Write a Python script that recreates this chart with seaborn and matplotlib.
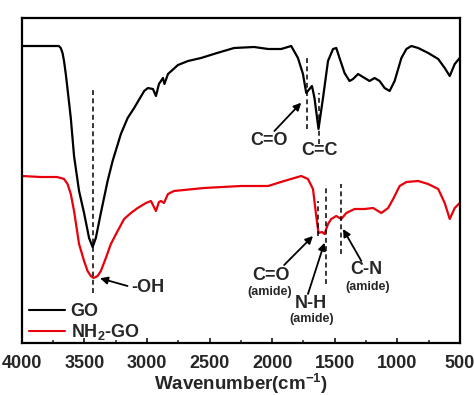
import matplotlib
matplotlib.use("Agg")
import matplotlib.pyplot as plt
import seaborn as sns
import pandas as pd
from matplotlib.ticker import MultipleLocator

# ---------------- data ----------------
go_wn = [4000, 3704, 3688, 3674, 3662, 3648, 3634, 3608, 3582, 3542, 3502, 3462,
         3434, 3408, 3368, 3314, 3274, 3208, 3154, 3102, 3022, 2992, 2952, 2928,
         2904, 2872, 2860, 2832, 2752, 2672, 2568, 2440, 2304, 2144, 2032, 1928,
         1848, 1794, 1754, 1728, 1702, 1682, 1662, 1630, 1594, 1554, 1514, 1488,
         1462, 1422, 1382, 1354, 1314, 1262, 1222, 1182, 1142, 1102, 1062, 1022,
         968, 928, 888, 834, 754, 674, 622, 582, 542, 502]
go_t = [297, 297, 295, 290, 282, 269, 254, 225, 187, 152, 130, 105,
        96, 105, 130, 162, 182, 209, 225, 235, 252, 255, 254, 247,
        259, 265, 259, 269, 278, 282, 285, 290, 295, 296, 294, 294,
        297, 285, 269, 250, 254, 257, 245, 214, 245, 282, 294, 295,
        285, 270, 262, 264, 269, 265, 262, 265, 262, 255, 252, 262,
        285, 294, 297, 295, 290, 284, 275, 267, 279, 285]

nh2_wn = [4000, 3848, 3720, 3688, 3662, 3634, 3608, 3582, 3542, 3502, 3474, 3448,
          3426, 3394, 3368, 3328, 3288, 3234, 3182, 3128, 3074, 3008, 2968, 2928,
          2904, 2888, 2864, 2832, 2784, 2544, 2248, 2032, 1904, 1768, 1714, 1674,
          1648, 1630, 1602, 1582, 1554, 1528, 1488, 1448, 1408, 1342, 1262, 1194,
          1128, 1074, 1034, 982, 928, 834, 754, 674, 622, 582, 542, 502]
nh2_t = [167, 166, 166, 165, 164, 159, 149, 132, 99, 82, 72, 67,
         65, 67, 72, 85, 99, 112, 124, 130, 135, 140, 142, 132,
         141, 142, 140, 149, 152, 155, 157, 157, 162, 167, 164, 154,
         127, 110, 111, 109, 119, 124, 127, 124, 130, 134, 134, 135,
         130, 135, 144, 157, 161, 162, 159, 154, 140, 124, 135, 140]

series_names = ["GO", "NH$_\\mathbf{2}$-GO"]
series_colors = ["#000000", "#e8000b"]

# guide lines at band positions: (wavenumber, ymin, ymax)
guide_wn = [3434, 1720, 1626, 1630, 1570, 1454]
guide_lo = [50, 214, 199, 107, 59, 89]
guide_hi = [253, 287, 250, 142, 155, 159]

x_ticks = [4000, 3500, 3000, 2500, 2000, 1500, 1000, 500]

# ---------------- style ----------------
sns.set_theme(style="ticks")
plt.rcParams["font.family"] = ["Liberation Sans", "DejaVu Sans"]
plt.rcParams["font.weight"] = "bold"
plt.rcParams["mathtext.fontset"] = "custom"
plt.rcParams["mathtext.bf"] = "Liberation Sans:bold"
plt.rcParams["mathtext.rm"] = "Liberation Sans:bold"
plt.rcParams["mathtext.default"] = "bf"

df = pd.concat([
    pd.DataFrame({"wn": go_wn, "T": go_t, "sample": series_names[0]}),
    pd.DataFrame({"wn": nh2_wn, "T": nh2_t, "sample": series_names[1]}),
])

fig = plt.figure(figsize=(4.74, 3.95), dpi=100)
ax = fig.add_axes([21.7 / 474, 1 - 343 / 395, (460 - 21.7) / 474, (343 - 18.5) / 395])

sns.lineplot(data=df, x="wn", y="T", hue="sample", palette=series_colors,
             estimator=None, sort=True, linewidth=1.6, ax=ax)

ax.vlines(guide_wn, guide_lo, guide_hi, colors="black", linestyles=(0, (3.2, 2.2)),
          linewidth=1.1)

ax.set_xlim(4000, 500)
ax.set_ylim(0, 324.5)
ax.set_xticks(x_ticks)
ax.set_xticklabels([str(t) for t in x_ticks], fontsize=13, fontweight="bold")
ax.xaxis.set_minor_locator(MultipleLocator(250))
ax.set_yticks([])
ax.set_ylabel("")
ax.set_xlabel("Wavenumber(cm$^{\\mathbf{-1}}$)", fontsize=13.5, fontweight="bold")
ax.xaxis.label.set_verticalalignment("baseline")
ax.xaxis.set_label_coords(241 / 474, 5.5 / 395, transform=fig.transFigure)
ax.tick_params(axis="x", which="major", direction="in", length=3.5, width=1.3, pad=8.5,
               top=False)
ax.tick_params(axis="x", which="minor", direction="in", length=2.2, width=1.1, top=False)
for s in ax.spines.values():
    s.set_linewidth(1.6)
    s.set_color("black")

leg = ax.legend(loc="lower left", bbox_to_anchor=(-0.012, -0.037), frameon=False,
                fontsize=13, handlelength=2.0, handletextpad=0.3, labelspacing=0.12,
                borderaxespad=0.3)
for t in leg.get_texts():
    t.set_fontweight("bold")
for h in leg.get_lines():
    h.set_linewidth(1.5)

arrow = dict(arrowstyle="-|>", color="black", lw=1.3, mutation_scale=11,
             shrinkA=0, shrinkB=0)
txt = dict(fontsize=13, fontweight="bold", ha="center", va="center")
small = dict(fontsize=9, fontweight="bold", ha="center", va="center")

ax.annotate("", xy=(3374, 64.7), xytext=(3155, 57), arrowprops=arrow)
ax.text(2994, 55.3, "-OH", **txt)

ax.annotate("", xy=(1768, 240.3), xytext=(1982, 212), arrowprops=arrow)
ax.text(2028, 202, "C=O", **txt)
ax.text(1624, 192.5, "C=C", **txt)

ax.annotate("", xy=(1674, 107), xytext=(1904, 78), arrowprops=arrow)
ax.text(2008, 68, "C=O", **txt)
ax.text(2018, 50.5, "(amide)", **small)

ax.annotate("", xy=(1582, 100.3), xytext=(1714, 49), arrowprops=arrow)
ax.text(1688, 40, "N-H", **txt)
ax.text(1684, 24, "(amide)", **small)

ax.annotate("", xy=(1434, 114), xytext=(1288, 82), arrowprops=arrow)
ax.text(1248, 73.7, "C-N", **txt)
ax.text(1240, 56.3, "(amide)", **small)

fig.savefig("out.png", dpi=100)
